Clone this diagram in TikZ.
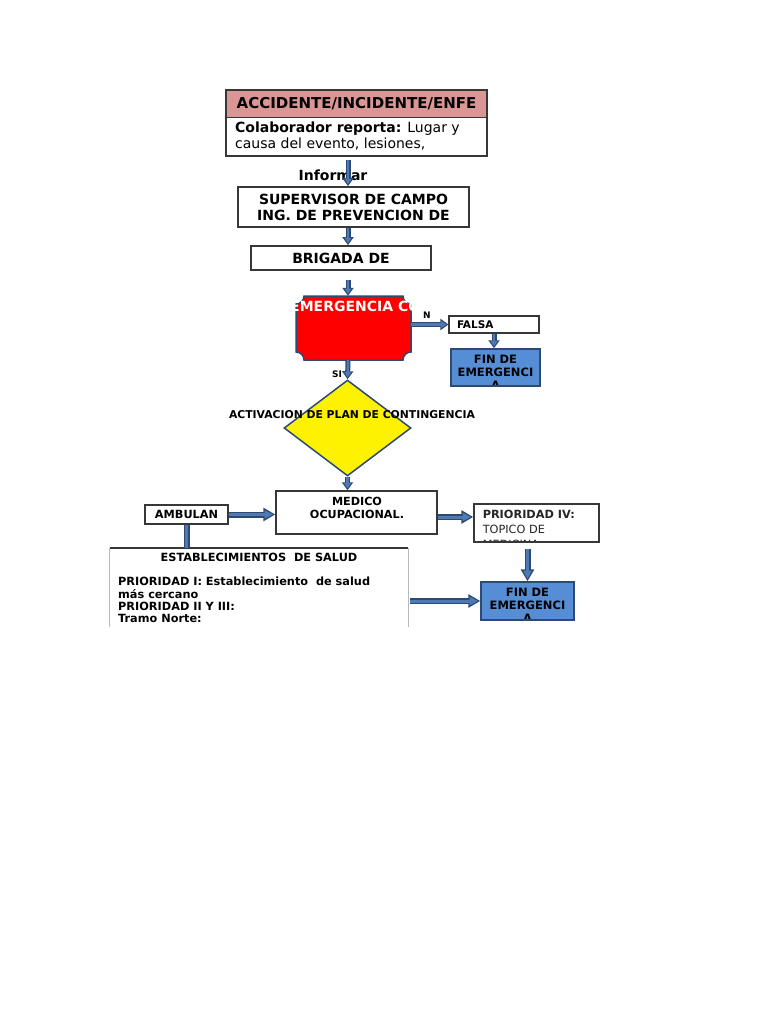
\documentclass[tikz,border=0pt]{standalone}
\usepackage{fontspec}
\setmainfont{DejaVu Sans}
\usetikzlibrary{arrows.meta,shapes.geometric,positioning}

\definecolor{rosa}{RGB}{218,150,148}
\definecolor{borde}{RGB}{55,55,55}
\definecolor{azulfin}{RGB}{85,142,213}
\definecolor{azulosc}{RGB}{45,74,115}
\definecolor{azulfl}{RGB}{79,121,178}
\definecolor{grisclaro}{RGB}{185,185,185}

\newcommand{\tamletra}[2]{\fontsize{#1}{#2}\selectfont}

\tikzset{
    caja/.style={draw=borde, line width=1.8pt, fill=white, inner sep=0pt},
    txt/.style={inner sep=0pt, font=\bfseries\tamletra{11.3}{13}},
    suelto/.style={draw=none, fill=none, minimum width=0pt, minimum height=0pt, inner sep=0pt},
    flecha/.style={draw=azulosc, line width=5pt, -{Triangle[length=8pt,width=11pt]},
        postaction={draw=azulfl, line width=2.4pt, shorten >=1.8pt, -{Triangle[length=5.5pt,width=6.5pt]}}},
    flechag/.style={draw=azulosc, line width=6pt, -{Triangle[length=12pt,width=13pt]},
        postaction={draw=azulfl, line width=3pt, shorten >=2.2pt, -{Triangle[length=8.5pt,width=8pt]}}},
    tubo/.style={draw=azulosc, line width=6pt, postaction={draw=azulfl, line width=3pt}},
    fin/.style={draw=azulosc, fill=azulfin, line width=1.5pt, minimum width=89pt, minimum height=37pt, inner sep=0pt,
        path picture={\node[suelto, font=\bfseries\tamletra{11.5}{13}, align=center, anchor=north]
            at ([yshift=-5pt]path picture bounding box.north) {FIN DE\\EMERGENCI\\A};}}
}

\begin{document}
\begin{tikzpicture}[x=1pt, y=-1pt]
    \fill[white] (0,0) rectangle (768,1024);
    \useasboundingbox (0,0) rectangle (768,1024);

    \node[caja, minimum width=261pt, minimum height=66pt] (acc) at (356.5,123) {};
    \node[caja, fill=rosa, minimum width=261pt, minimum height=27pt, font=\bfseries\tamletra{15}{17}] (cab) at (356.5,104) {ACCIDENTE/INCIDENTE/ENFE};
    \node[anchor=west, inner sep=0pt, align=left, font=\tamletra{14}{16.5}] (colab) at (235,136) {\textbf{Colaborador reporta:} Lugar y\\causa del evento, lesiones,};
    \node[txt, font=\bfseries\tamletra{14}{16}] (inf) at (333,175) {Informar};
    \node[caja, minimum width=231pt, minimum height=40pt, align=center, font=\bfseries\tamletra{14}{16}] (sup) at (353.5,207) {SUPERVISOR DE CAMPO\\ING. DE PREVENCION DE};
    \node[caja, minimum width=180pt, minimum height=24pt, font=\bfseries\tamletra{14}{16}] (brig) at (341,258) {BRIGADA DE};

    \draw[draw=azulosc, fill=red, line width=1.5pt] (304,296) -- (403,296) .. controls (403,300.4) and (406.6,304) .. (411,304)
        -- (411,352) .. controls (406.6,352) and (403,355.6) .. (403,360)
        -- (304,360) .. controls (304,355.6) and (300.4,352) .. (296,352)
        -- (296,304) .. controls (300.4,304) and (304,300.4) .. (304,296) -- cycle;
    \node[minimum width=115pt, minimum height=64pt, inner sep=0pt] (emerg) at (353.5,328) {};
    \begin{scope}
        \clip (293,290) rectangle (411,330);
        \node[txt, text=white, font=\bfseries\tamletra{14}{16}, anchor=west] (emergtxt) at (290,306) {EMERGENCIA CO};
    \end{scope}
    \node[txt, font=\bfseries\tamletra{9}{10}] (no) at (427,315) {N};
    \node[caja, line width=1.2pt, minimum height=17pt, text width=74pt, inner xsep=8pt, align=left, font=\bfseries\tamletra{10.5}{12}] (falsa) at (494,324.5) {FALSA};
    \node[fin] (fin1) at (495.5,367.5) {};
    \node[txt, font=\bfseries\tamletra{9}{10}] (si) at (337,374) {SI};

    \node[diamond, draw=azulosc, fill=yellow, line width=1.5pt, minimum width=127pt, minimum height=96pt, inner sep=0pt] (activ) at (347.5,428) {};
    \node[txt, font=\bfseries\tamletra{10.8}{12}] (activtxt) at (352,415) {ACTIVACION DE PLAN DE CONTINGENCIA};

    \node[caja, line width=1.5pt, minimum width=161pt, minimum height=43pt] (medico) at (356.5,512.5) {};
    \node[txt, align=center, font=\bfseries\tamletra{11.2}{13}, anchor=north] (medtxt) at (357,497) {MEDICO\\OCUPACIONAL.};
    \node[caja, minimum width=83pt, minimum height=19pt] (ambul) at (186.5,514.5) {};
    \node[txt] (ambtxt) at (ambul) {AMBULAN};
    \node[caja, line width=1.5pt, minimum width=125pt, minimum height=38pt,
        path picture={\node[suelto, anchor=north west, align=left, font=\tamletra{11.3}{15}, text=black!85]
            at ([xshift=8pt,yshift=-5pt]path picture bounding box.north west) {\textbf{PRIORIDAD IV:}\\TOPICO DE\\MEDICINA};}] (prior) at (536.5,523) {};
    \node[fin, minimum width=93pt, minimum height=38pt] (fin2) at (527.5,601) {};

    \node[minimum width=298pt, minimum height=79pt, inner sep=0pt] (estab) at (259,587.5) {};
    \node[txt] (estabtit) at (259,557) {ESTABLECIMIENTOS\ \ DE SALUD};
    \node[txt, anchor=north west, align=left, font=\bfseries\tamletra{11.3}{12.3}] (estabtxt) at (118,577) {PRIORIDAD I: Establecimiento\ \ de salud\\más cercano\\PRIORIDAD II Y III:\\Tramo Norte:};
    \draw[draw=grisclaro, line width=1pt] (estab.north west) -- (estab.south west) (estab.north east) -- (estab.south east);
    \draw[draw=borde, line width=2pt] (estab.north west) -- (estab.north east);

    \coordinate (eje) at (348,0);
    \coordinate (pin) at ([yshift=6pt]prior.west);
    \draw[flecha, shorten <=3pt] (acc.south -| eje) -- (sup.north -| eje);
    \draw[flecha] (sup.south -| eje) -- (brig.north -| eje);
    \draw[flecha, shorten <=9pt] (brig.south -| eje) -- (emerg.north -| eje);
    \draw[flecha] (emerg.east |- falsa) -- (falsa.west);
    \draw[flecha] (falsa.south) -- (fin1.north -| falsa.south);
    \draw[flecha] (emerg.south -| eje) -- (activ.north);
    \draw[flecha] (activ.south) -- (medico.north -| activ.south);
    \draw[flechag] (ambul.east) -- (medico.west |- ambul.east);
    \draw[flechag] (pin -| medico.east) -- (pin);
    \draw[flechag, shorten <=6pt] (prior.south -| fin2.north) -- (fin2.north);
    \draw[tubo] (ambul.south) -- (estab.north -| ambul.south);
    \draw[flechag, shorten <=2pt] (fin2.west -| estab.east) -- (fin2.west);
\end{tikzpicture}
\end{document}
